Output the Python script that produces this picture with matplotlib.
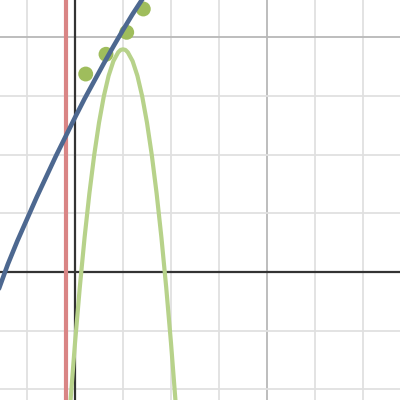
import matplotlib
matplotlib.use("Agg")
import matplotlib.pyplot as plt
import numpy as np

# view window (graph units)
x_lim = (-1.5625, 6.771)
y_lim = (-2.179, 4.630)

# data points
pts_x = [0.223, 0.646, 1.077, 1.423]
pts_y = [3.370, 3.706, 4.080, 4.477]

# blue curve, read along its length
blue_x = [-1.6, -1.4, -1.2, -1.0, -0.8, -0.6, -0.4, -0.2, 0.0, 0.2, 0.4, 0.6, 0.8, 1.0, 1.2, 1.4, 1.6]
blue_y = [-0.32, 0.13, 0.53, 0.90, 1.27, 1.62, 1.97, 2.30, 2.63, 2.95, 3.25, 3.55, 3.84, 4.12, 4.39, 4.64, 4.89]

# green curve
green_x = [-0.1, 0.0, 0.1, 0.2, 0.3, 0.4, 0.5, 0.6, 0.7, 0.8, 0.9, 0.95, 1.0, 1.05, 1.1,
           1.2, 1.3, 1.4, 1.5, 1.6, 1.7, 1.8, 1.9, 2.0, 2.1]
green_y = [-2.26, -1.21, -0.26, 0.59, 1.34, 1.99, 2.54, 2.99, 3.34, 3.59, 3.74, 3.78, 3.79, 3.78, 3.74,
           3.59, 3.34, 2.99, 2.54, 1.99, 1.34, 0.59, -0.26, -1.21, -2.26]

# vertical red line
red_x = -0.19

fig = plt.figure(figsize=(4, 4), dpi=100)
ax = fig.add_axes([0, 0, 1, 1])
ax.set_xlim(*x_lim)
ax.set_ylim(*y_lim)

# grid: minor every 1, major every 4
for gx in range(-1, 7):
    major = gx % 4 == 0
    ax.axvline(gx, color="#b8b8b8" if major else "#e0e0e0", lw=1.3, zorder=0)
for gy in range(-2, 5):
    major = gy % 4 == 0
    ax.axhline(gy, color="#b8b8b8" if major else "#e0e0e0", lw=1.3, zorder=0)

ax.axhline(0, color="#333333", lw=1.6, zorder=1)
ax.axvline(0, color="#333333", lw=1.6, zorder=1)

ax.axvline(red_x, color="#d98585", lw=3.0, zorder=3)
ax.plot(green_x, green_y, color="#b7d28a", lw=3.0, zorder=3, solid_capstyle="round")
ax.scatter(pts_x, pts_y, s=115, color="#9fbd5c", edgecolors="none", zorder=4)
ax.plot(blue_x, blue_y, color="#4d6890", lw=3.3, zorder=5, solid_capstyle="round")

ax.set_xticks([])
ax.set_yticks([])
for s in ax.spines.values():
    s.set_visible(False)

fig.savefig("out.png", dpi=100)
